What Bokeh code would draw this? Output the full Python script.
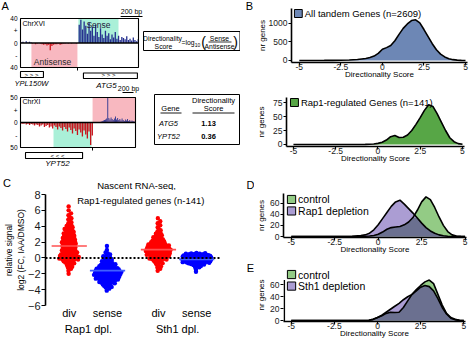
import numpy as np
from bokeh.plotting import figure
from bokeh.models import Range1d, FactorRange, Span, FixedTicker, NumeralTickFormatter
from bokeh.layouts import row, column
from bokeh.embed import file_html
from bokeh.resources import INLINE
from bokeh.core.properties import value

FONT = "Liberation Sans"
FV = value(FONT)

# ======================= DATA =======================
# ---- Panel A : genome browser tracks (bp, reads) ----
t1_len = 1080
t1_ylim = 40
t1_bin = 15
t1_sense_start = 530
t1_sense = [30, 38, 22, 35, 28, 15, 33, 20, 26, 12, 30, 18, 10, 24, 14, 8, 20, 12, 16, 6,
            14, 9, 18, 7, 12, 5, 10, 8, 6, 11, 5, 7, 4, 9, 5, 3, 6]
t1_anti_start = 100
t1_anti = [1, 0, 2, 1, 0, 1, 2, 3, 2, 4, 3, 12, 5, 3, 2, 2, 1, 3, 2, 1, 1, 0, 1, 0, 1, 0, 0, 1]
t1_bg_start = 0
t1_bg = [1, 2, 0, 3, 1, 2, 1]
t1_sense_region = [530, 897]
t1_anti_region = [100, 521]
t1_gene_names = ["YPL150W", "ATG5"]
t1_gene_start = [0, 576]
t1_gene_end = [210, 1070]

t2_len = 2090
t2_ylim = 50
t2_anti_bin = 30
t2_anti_start = 0
t2_anti = [2, 3, 2, 4, 3, 5, 3, 4, 6, 4, 5, 8, 6, 4, 9, 7, 5, 10, 8, 12,
           6, 9, 14, 8, 11, 16, 9, 13, 18, 10, 15, 22, 12, 17, 25, 14, 20, 28, 16, 24,
           32, 18, 45, 26]
t2_sense_bin = 20
t2_sense_start = 1456
t2_sense = [2, 3, 4, 5, 6, 8, 50, 9, 6, 10, 7, 5, 8, 12, 6, 9, 5, 7, 4, 8,
            5, 3, 6, 4, 7, 3, 5, 2, 4, 3, 2]
t2_pink_region = [1310, 2090]
t2_green_region = [600, 1290]
t2_gene_names = ["YPT52"]
t2_gene_start = [91]
t2_gene_end = [1128]
scale_bar_bp = 200

table_genes = ["ATG5", "YPT52"]
table_scores = ["1.13", "0.36"]

# ---- Panels B, D, E : densities (nr genes vs directionality score) ----
dens_x = [-5, -4.5, -4, -3.5, -3, -2.5, -2, -1.5, -1, -0.75, -0.5, -0.25, 0, 0.25, 0.5, 0.75,
          1, 1.25, 1.5, 1.75, 2, 2.25, 2.5, 2.75, 3, 3.25, 3.5, 3.75, 4, 4.25, 4.5, 4.75, 5]
all_tandem = [0, 0, 1, 2, 4, 7, 12, 25, 55, 80, 118, 190, 300, 345, 400, 530,
              700, 860, 980, 1070, 1090, 1010, 830, 640, 450, 290, 170, 95, 48, 22, 9, 3, 1]
rap1_regulated = [0, 0, 0, 0, 0, 0, 0, 0, 0, 0.2, 0.5, 1, 2, 4, 8, 14,
                  16, 12.5, 13, 17, 25, 36, 48, 61, 71, 68, 55, 40, 25, 12, 5, 1.5, 0.3]
d_control = [0, 0, 0, 0, 0, 0, 0, 0, 0.1, 0.4, 1, 2, 4, 8, 13, 16,
             17, 18, 21, 26, 34, 47, 62, 71, 66, 52, 35, 20, 9, 3, 1, 0.3, 0]
d_rap1_depl = [0, 0, 0, 0, 0, 0, 0.2, 0.5, 2, 3, 6, 12, 21, 32, 43, 54,
               62, 65, 58, 50, 42, 33, 24, 16, 10, 6, 3, 1.5, 0.6, 0.2, 0, 0, 0]
e_control = [0, 0, 0, 0, 0, 0, 0, 0, 0, 0.1, 0.5, 2, 5, 8, 12, 14,
             13.5, 14, 22, 33, 44, 52, 59, 65, 68, 62, 44, 26, 12, 5, 2, 0.5, 0]
e_sth1_depl = [0, 0, 0, 0, 0, 0, 0, 0, 0, 0.1, 0.5, 2, 5, 9, 14, 19,
               24, 29, 35, 40, 44, 50, 56, 59, 57, 50, 37, 22, 11, 4, 1.5, 0.3, 0]
x_ticks = [-5, -2.5, 0, 2.5, 5]

# ---- Panel C : nascent RNA-seq (log2 FC), binned values & counts ----
c_factors = [("Rap1 dpl.", "div"), ("Rap1 dpl.", "sense"), ("Sth1 dpl.", "div"), ("Sth1 dpl.", "sense")]
rap1_div_bins = [-2, -1.5, -1, -0.5, 0, 0.5, 1, 1.5, 2, 2.5, 3, 3.5, 4, 4.5, 5, 5.5, 6, 6.5]
rap1_div_counts = [1, 2, 5, 10, 20, 16, 14, 13, 14, 12, 10, 8, 6, 3, 3, 2, 1, 1]
rap1_sense_bins = [-4, -3.5, -3, -2.5, -2, -1.5, -1, -0.5, 0, 0.5, 1, 1.5]
rap1_sense_counts = [2, 8, 16, 24, 28, 24, 16, 10, 7, 4, 1, 1]
sth1_div_bins = [-1.5, -1, -0.5, 0, 0.5, 1, 1.5, 2, 2.5, 3, 3.5, 4, 4.5, 5]
sth1_div_counts = [2, 4, 8, 18, 24, 26, 22, 14, 9, 6, 3, 2, 2, 1]
sth1_sense_bins = [-1.75, -1.5, -1.25, -1, -0.75, -0.5, -0.25, 0, 0.25, 0.5]
sth1_sense_counts = [1, 1, 2, 4, 8, 18, 32, 38, 26, 11]
c_bin_widths = [0.5, 0.5, 0.5, 0.25]
c_means = [1.5, -1.6, 1.05, -0.2]
c_y_ticks = [-6, -4, -2, 0, 2, 4, 6, 8]

# ======================= STYLE =======================
BLUE_B = "#6d87b5"
GREEN_B = "#57a646"
CTRL = "#93cb85"
DEPL = "#ab9dd3"
OVER = "#6b7090"


def lin_range(p0, p1, v0, v1, total):
    s = (p1 - p0) / (v1 - v0)
    return Range1d(start=v0 - p0 / s, end=v0 + (total - p0) / s)


def canvas(w, h):
    c = figure(width=w, height=h, x_range=Range1d(0, w), y_range=Range1d(h, 0),
               x_axis_location=None, y_axis_location=None, output_backend="svg",
               toolbar_location=None, min_border=0, outline_line_color=None,
               frame_align=False)
    c.grid.visible = False
    return c


def ctext(c, x, y, t, size, align="center", style="normal", color="black", angle=0.0, **kw):
    c.text(x=[x], y=[y], text=[t], text_font=FV, text_font_size=size, text_align=align,
           text_baseline="middle", text_font_style=style, text_color=color, angle=angle, **kw)


# ======================= PANEL A (illustration canvas, also holds C headings) =======================
HA = 190
pa = canvas(240, HA)
T1 = dict(l=20, r=138, top=18, bot=67)
T2 = dict(l=20, r=135, top=97, bot=147)
pa.extra_x_ranges = {"t1x": lin_range(T1["l"], T1["r"], 0, t1_len, 240),
                     "t2x": lin_range(T2["l"], T2["r"], 0, t2_len, 240)}
pa.extra_y_ranges = {"t1y": lin_range(HA - T1["bot"], HA - T1["top"], -t1_ylim, t1_ylim, HA),
                     "t2y": lin_range(HA - T2["bot"], HA - T2["top"], -t2_ylim, t2_ylim, HA)}


def bars(start, binw, vals, sign, color, xr, yr):
    xs = [start + binw * (i + 0.5) for i in range(len(vals))]
    if sign > 0:
        top, bot = list(vals), [0] * len(vals)
    else:
        top, bot = [0] * len(vals), [-v for v in vals]
    pa.vbar(x=xs, width=binw * 0.8, top=top, bottom=bot, fill_color=color, line_color=None,
            x_range_name=xr, y_range_name=yr)


pa.quad(left=[t1_sense_region[0]], right=[t1_sense_region[1]], bottom=[0], top=[t1_ylim],
        fill_color="#aaf0d8", line_color=None, x_range_name="t1x", y_range_name="t1y")
pa.quad(left=[t1_anti_region[0]], right=[t1_anti_region[1]], bottom=[-t1_ylim], top=[0],
        fill_color="#f8b8c0", line_color=None, x_range_name="t1x", y_range_name="t1y")
bars(t1_sense_start, t1_bin, t1_sense, 1, "#26318f", "t1x", "t1y")
bars(t1_bg_start, t1_bin, t1_bg, 1, "#26318f", "t1x", "t1y")
bars(t1_anti_start, t1_bin, t1_anti, -1, "#d0141c", "t1x", "t1y")
pa.quad(left=[0], right=[t1_len], bottom=[-t1_ylim], top=[t1_ylim], fill_color=None,
        line_color="black", line_width=1.1, x_range_name="t1x", y_range_name="t1y")
pa.segment(x0=[0], x1=[t1_len], y0=[0], y1=[0], line_color="black", line_width=1.3,
           x_range_name="t1x", y_range_name="t1y")

pa.quad(left=[t2_pink_region[0]], right=[t2_pink_region[1]], bottom=[0], top=[t2_ylim],
        fill_color="#f8b8c0", line_color=None, x_range_name="t2x", y_range_name="t2y")
pa.quad(left=[t2_green_region[0]], right=[t2_green_region[1]], bottom=[-t2_ylim], top=[0],
        fill_color="#aaf0d8", line_color=None, x_range_name="t2x", y_range_name="t2y")
bars(t2_anti_start, t2_anti_bin, t2_anti, -1, "#c8141c", "t2x", "t2y")
bars(t2_sense_start, t2_sense_bin, t2_sense, 1, "#26318f", "t2x", "t2y")
pa.quad(left=[0], right=[t2_len], bottom=[-t2_ylim], top=[t2_ylim], fill_color=None,
        line_color="black", line_width=1.1, x_range_name="t2x", y_range_name="t2y")
pa.segment(x0=[0], x1=[t2_len], y0=[0], y1=[0], line_color="black", line_width=1.3,
           x_range_name="t2x", y_range_name="t2y")

pa.text(x=[17] * 5, y=[t1_ylim, t1_ylim / 2, 0, -t1_ylim / 2, -t1_ylim],
        text=["40", "+", "0", "-", "40"], text_font=FV, text_font_size="6.5px",
        text_align="right", text_baseline="middle", y_range_name="t1y")
pa.text(x=[17] * 5, y=[t2_ylim, t2_ylim / 2, 0, -t2_ylim / 2, -t2_ylim],
        text=["50", "+", "0", "-", "50"], text_font=FV, text_font_size="6.5px",
        text_align="right", text_baseline="middle", y_range_name="t2y")

pa.quad(left=t1_gene_start, right=t1_gene_end, top=[71, 72.5], bottom=[77, 78],
        fill_color="white", line_color="black", line_width=1.1, x_range_name="t1x")
pa.quad(left=t2_gene_start, right=t2_gene_end, top=[152], bottom=[158],
        fill_color="white", line_color="black", line_width=1.1, x_range_name="t2x")
pa.segment(x0=[77, 92], x1=[77, 92], y0=[67, 147], y1=[70, 150], line_color="black", line_width=1)

s1 = (T1["r"] - T1["l"]) / t1_len
s2 = (T2["r"] - T2["l"]) / t2_len
pa.segment(x0=[142 - scale_bar_bp * s1, 133 - scale_bar_bp * s2], x1=[142, 133],
           y0=[16, 92], y1=[16, 92], line_color="black", line_width=1)

ctext(pa, 1, 5, "A", "11px", align="left")
ctext(pa, 131, 11, "200 bp", "7px")
ctext(pa, 22, 23, "ChrXVI", "7px", align="left")
ctext(pa, 98, 24, "Sense", "8.5px", color="#1a1a3a")
ctext(pa, 52, 61, "Antisense", "8.5px", color="#2a2a2a")
ctext(pa, 31, 74.2, "> > >", "6px")
ctext(pa, 108, 74.5, "> > >", "6px")
ctext(pa, 31, 83, t1_gene_names[0], "7.5px", style="italic")
ctext(pa, 106, 84.5, t1_gene_names[1], "8px", style="italic")
ctext(pa, 128, 88, "200 bp", "7px")
ctext(pa, 22, 101, "ChrXI", "7px", align="left")
ctext(pa, 57, 155, "< < <", "6px")
ctext(pa, 57, 163, t2_gene_names[0], "8px", style="italic")

pa.quad(left=[143], right=[239.5], top=[31], bottom=[50], fill_color=None, line_color="black", line_width=1)
ctext(pa, 162, 38, "Directionality", "6.8px")
ctext(pa, 163, 45.5, "Score", "6.8px")
ctext(pa, 187.5, 42, "=log", "6.8px")
ctext(pa, 197, 44.5, "10", "5px")
ctext(pa, 203, 41.5, "(", "14px")
ctext(pa, 219, 37.5, "Sense", "6.8px")
pa.segment(x0=[208], x1=[231], y0=[41.5], y1=[41.5], line_color="black", line_width=0.8)
ctext(pa, 219, 45.5, "Antisense", "6.8px")
ctext(pa, 235, 41.5, ")", "14px")

pa.quad(left=[154], right=[239], top=[94], bottom=[144], fill_color=None, line_color="black", line_width=1)
ctext(pa, 170, 108, "Gene", "7.5px")
ctext(pa, 213, 100, "Directionality", "7.5px")
ctext(pa, 213, 107.5, "Score", "7.5px")
pa.segment(x0=[160, 192], x1=[181, 234], y0=[112.5, 112.5], y1=[112.5, 112.5], line_color="black", line_width=0.9)
ctext(pa, 168, 122.5, table_genes[0], "7.5px", style="italic")
ctext(pa, 168, 135.5, table_genes[1], "7.5px", style="italic")
ctext(pa, 208, 122.5, table_scores[0], "7.5px", style="bold")
ctext(pa, 208, 135.5, table_scores[1], "7.5px", style="bold")

# headings of panel C (above C's plot area)
ctext(pa, 6.5, 182.5, "C", "11px")
ctext(pa, 136, 184.5, "Nascent RNA-seq,", "9.5px")

# letter strip between the left column and panels B/D/E (x 240..254)
strip = canvas(14, 340)
ctext(strip, 9, 5, "B", "11px")
ctext(strip, 10, 184, "D", "11px")
ctext(strip, 10, 267.5, "E", "11px")


# ======================= helpers for axes panels =======================
def style_axes(p, size, tick_out=3):
    for ax in p.axis:
        ax.axis_line_width = 1.6
        ax.axis_line_color = "black"
        ax.major_tick_line_color = "black"
        ax.major_tick_line_width = 1.2
        ax.major_tick_out = tick_out
        ax.major_tick_in = 0
        ax.minor_tick_line_color = None
        ax.major_label_text_font = FONT
        ax.major_label_text_font_size = size
        ax.major_label_text_color = "#1a1a1a"
        ax.major_label_standoff = 1


def make_frame(fig_left, fig_top, w, h, bl, br, bt, bb, xr, yr):
    return dict(left=fig_left + bl, right=fig_left + w - br, top=fig_top + bt,
                bottom=fig_top + h - bb, x0=xr[0], x1=xr[1], y0=yr[0], y1=yr[1],
                w=w, h=h, bl=bl, br=br, bt=bt, bb=bb)


def px2x(fr, px):
    return fr["x0"] + (px - fr["left"]) / (fr["right"] - fr["left"]) * (fr["x1"] - fr["x0"])


def px2y(fr, py):
    return fr["y0"] + (fr["bottom"] - py) / (fr["bottom"] - fr["top"]) * (fr["y1"] - fr["y0"])


def dens_fig(fr, yticks, ylab_standoff):
    p = figure(width=fr["w"], height=fr["h"], x_range=Range1d(fr["x0"], fr["x1"]),
               y_range=Range1d(fr["y0"], fr["y1"]), output_backend="svg", toolbar_location=None,
               min_border_left=fr["bl"], min_border_right=fr["br"], min_border_top=fr["bt"],
               min_border_bottom=fr["bb"], outline_line_color=None, frame_align=False)
    p.grid.visible = False
    p.xaxis.ticker = FixedTicker(ticks=x_ticks)
    p.xaxis.formatter = NumeralTickFormatter(format="0.[0]")
    p.yaxis.ticker = FixedTicker(ticks=yticks)
    p.yaxis.formatter = NumeralTickFormatter(format="0")
    style_axes(p, "8.5px")
    xa = p.xaxis[0]
    xa.major_label_standoff = -2
    xa.axis_label = "Directionality Score"
    xa.axis_label_standoff = -3
    ya = p.yaxis[0]
    ya.axis_label = "nr genes"
    ya.axis_label_standoff = ylab_standoff
    for ax in (xa, ya):
        ax.axis_label_text_font = FONT
        ax.axis_label_text_font_size = "8px"
        ax.axis_label_text_font_style = "normal"
        ax.axis_label_text_color = "black"
    return p


def legend_item(p, fr, x0, y0, size, color, text, fsize):
    p.quad(left=[px2x(fr, x0)], right=[px2x(fr, x0 + size)], top=[px2y(fr, y0)],
           bottom=[px2y(fr, y0 + size)], fill_color=color, line_color="black", line_width=1)
    p.text(x=[px2x(fr, x0 + size + 2.5)], y=[px2y(fr, y0 + size / 2)], text=[text], text_font=FV,
           text_font_size=fsize, text_baseline="middle", text_align="left")


zero = [0] * len(dens_x)

# ======================= PANEL B =======================
fb1 = make_frame(254, 0, 220, 85, 33, 7, 8, 23, (-5.47, 5.12), (-54, 1394))
pb1 = dens_fig(fb1, [0, 500, 1000], -1)
pb1.varea(x=dens_x, y1=zero, y2=all_tandem, fill_color=BLUE_B)
pb1.line(dens_x, all_tandem, line_color="black", line_width=1.6)
legend_item(pb1, fb1, 290, 9, 8, BLUE_B, "All tandem Genes (n=2609)", "9.5px")

fb2 = make_frame(254, 85, 220, 85, 31, 10, 12, 24, (-5.41, 5.12), (-3.6, 84))
pb2 = dens_fig(fb2, [0, 25, 50, 75], 4)
pb2.varea(x=dens_x, y1=zero, y2=rap1_regulated, fill_color=GREEN_B)
pb2.line(dens_x, rap1_regulated, line_color="black", line_width=1.6)
legend_item(pb2, fb2, 289, 98, 8, GREEN_B, "Rap1-regulated Genes (n=141)", "9.5px")

# ======================= PANEL D =======================
fd = make_frame(254, 170, 220, 86, 24, 8, 23, 17, (-5.45, 5.08), (-1.7, 77))
pd = dens_fig(fd, [0, 20, 40, 60], 1)
pd.varea(x=dens_x, y1=zero, y2=d_control, fill_color=CTRL)
pd.varea(x=dens_x, y1=zero, y2=d_rap1_depl, fill_color=DEPL)
pd.varea(x=dens_x, y1=zero, y2=list(np.minimum(d_control, d_rap1_depl)), fill_color=OVER)
pd.line(dens_x, d_control, line_color="black", line_width=1.6)
pd.line(dens_x, d_rap1_depl, line_color="black", line_width=1.6)
legend_item(pd, fd, 282, 195, 8.5, CTRL, "control", "10.5px")
legend_item(pd, fd, 282, 207, 8.5, DEPL, "Rap1 depletion", "10.5px")

# ======================= PANEL E =======================
fe = make_frame(254, 256, 220, 84, 24, 9, 12, 17, (-5.45, 5.1), (-1.6, 87.5))
pe = dens_fig(fe, [0, 20, 40, 60], 1)
pe.yaxis.axis_line_color = None
ax_x = px2x(fe, fe["left"] + 0.8)
pe.segment(x0=[ax_x], x1=[ax_x], y0=[fe["y0"]], y1=[px2y(fe, 280)], line_color="black", line_width=1.6)
pe.varea(x=dens_x, y1=zero, y2=e_control, fill_color=CTRL)
pe.varea(x=dens_x, y1=zero, y2=e_sth1_depl, fill_color=DEPL)
pe.varea(x=dens_x, y1=zero, y2=list(np.minimum(e_control, e_sth1_depl)), fill_color=OVER)
pe.line(dens_x, e_control, line_color="black", line_width=1.6)
pe.line(dens_x, e_sth1_depl, line_color="black", line_width=1.6)
legend_item(pe, fe, 282, 270, 8.5, CTRL, "control", "10.5px")
legend_item(pe, fe, 282, 282, 8.5, DEPL, "Sth1 depletion", "10.5px")

# ======================= PANEL C =======================
xr_c = FactorRange(*c_factors, factor_padding=0.0, group_padding=0.33,
                   range_padding=0.12, range_padding_units="absolute")
pc = figure(width=240, height=150, x_range=xr_c, y_range=Range1d(-6, 8), output_backend="svg",
            toolbar_location=None, min_border_left=37, min_border_right=20, min_border_top=4,
            min_border_bottom=35, outline_line_color=None, frame_align=False)
pc.grid.visible = False
pc.yaxis.ticker = FixedTicker(ticks=c_y_ticks)
style_axes(pc, "11px", tick_out=4)
ya = pc.yaxis[0]
ya.axis_label = "relative signal\nlog2 (FC, IAA/DMSO)"
ya.axis_label_standoff = -1
ya.axis_label_text_font = FONT
ya.axis_label_text_font_size = "8.5px"
ya.axis_label_text_font_style = "normal"
ya.axis_label_text_color = "black"

xa = pc.xaxis[0]
xa.axis_line_color = None
xa.major_tick_line_color = None
xa.major_tick_out = 0
xa.separator_line_color = None
xa.major_label_text_font_size = "11px"
xa.major_label_text_color = "black"
xa.major_label_standoff = 1
xa.group_text_font = FONT
xa.group_text_font_size = "11px"
xa.group_text_font_style = "normal"
xa.group_text_color = "black"

groups_bins = [rap1_div_bins, rap1_sense_bins, sth1_div_bins, sth1_sense_bins]
groups_counts = [rap1_div_counts, rap1_sense_counts, sth1_div_counts, sth1_sense_counts]
colors_c = ["#ff0000", "#0000ff", "#ff0000", "#0000ff"]
for gi, (fac, bins_, counts, bw) in enumerate(zip(c_factors, groups_bins, groups_counts, c_bin_widths)):
    xs, ys = [], []
    for b, n in zip(bins_, counts):
        hw = min(0.38, 0.03 + 0.006 * n / bw)
        for i in range(n):
            ys.append(b + bw * ((i + 0.5) / n - 0.5))
            u = ((i * 0.618034 + 0.31) % 1.0) * 2 - 1
            xs.append((fac[0], fac[1], u * hw))
    pc.scatter(x=xs, y=ys, size=4.4, fill_color=colors_c[gi], line_color=None)

mean_cols = ["#ff5050", "#4060ff", "#ff5050", "#4060ff"]
pc.segment(x0=[(f[0], f[1], -0.46) for f in c_factors], x1=[(f[0], f[1], 0.46) for f in c_factors],
           y0=c_means, y1=c_means, line_color=mean_cols, line_width=1.6)
pc.add_layout(Span(location=0, dimension="width", line_color="black", line_width=2, line_dash="2 2"))
pc.text(x=[("Rap1 dpl.", "sense", 0.87)], y=[7.3], text=["Rap1-regulated genes (n-141)"],
        text_font=FV, text_font_size="9.5px", text_align="center", text_baseline="middle")

layout = row(column(pa, pc, spacing=0), strip, column(pb1, pb2, pd, pe, spacing=0), spacing=0)

open("out.html", "w").write(file_html(layout, INLINE))
